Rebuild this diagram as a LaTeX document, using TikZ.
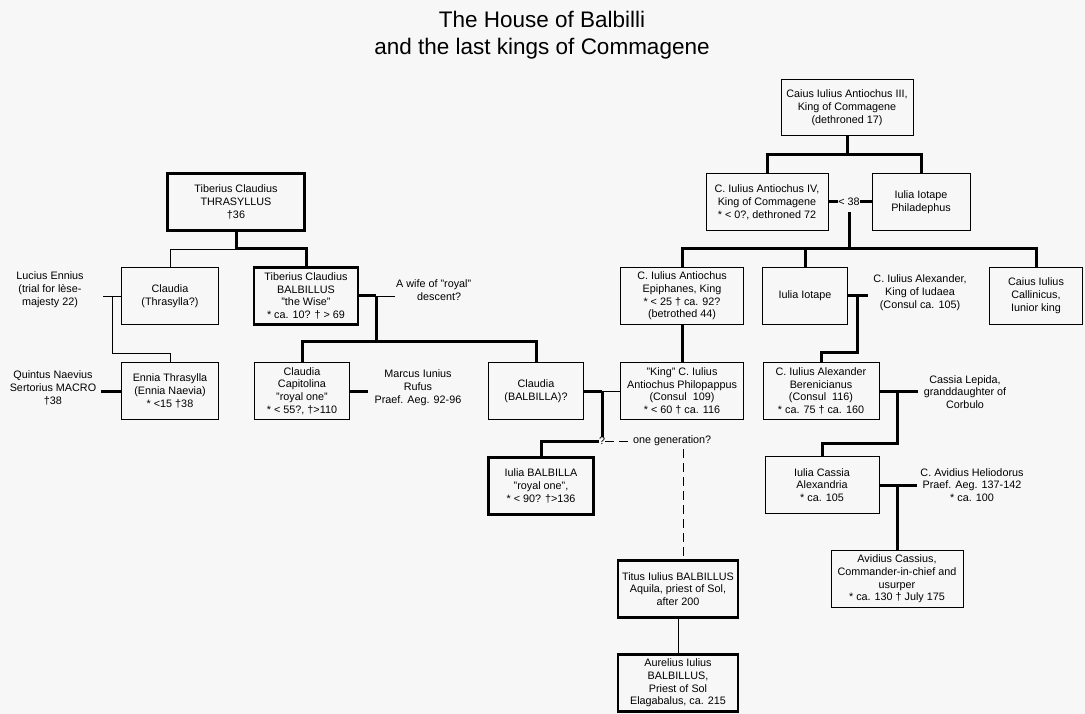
\documentclass[tikz,border=0pt]{standalone}
\usepackage{fontspec}
\setmainfont{Liberation Sans}
\begin{document}
\begin{tikzpicture}[x=1pt,y=-1pt,
  every node/.style={font=\fontsize{10.8}{12.8}\selectfont, align=center, inner sep=1pt},
  box/.style={draw, line width=1pt, minimum height=57pt, minimum width=#1},
  box/.default=100pt,
  tbox/.style={box=#1, line width=2.6pt},
  tbox/.default=100pt,
  thk/.style={line width=3pt},
  thn/.style={line width=0.9pt},
  lbl/.style={inner sep=0pt}]
\fill[gray!6] (0,0) rectangle (1085,714);
\useasboundingbox (0,0) rectangle (1085,714);
\node[font=\fontsize{22.5}{27}\selectfont] (title) at (542,35) {The House of Balbilli\\and the last kings of Commagene};

\node[box=132pt, minimum height=56pt] (a3) at (847,108) {Caius Iulius Antiochus III,\\King of Commagene\\(dethroned 17)};
\node[box=122pt] (a4) at (767,202) {C. Iulius Antiochus IV,\\King of Commagene\\{}* < 0?, dethroned 72};
\node[box=98pt] (ip) at (921,202) {Iulia Iotape\\Philadephus};
\node[lbl] (m38) at (849,202) {< 38};
\node[box=123pt] (ep) at (682,296) {C. Iulius Antiochus\\Epiphanes, King\\{}* < 25 \dag{} ca. 92?\\(betrothed 44)};
\node[box=85pt] (ii) at (805,296) {Iulia Iotape};
\node[lbl] (alx) at (920,293) {C. Iulius Alexander,\\King of Iudaea\\(Consul ca. 105)};
\node[box=93pt] (cal) at (1036,296) {Caius Iulius\\Callinicus,\\Iunior king};

\node[tbox=137pt] (thr) at (236,202) {Tiberius Claudius\\THRASYLLUS\\\dag36};
\node[box=97pt] (cth) at (170,296) {Claudia\\(Thrasylla?)};
\node[tbox=104pt] (bal) at (306,296) {Tiberius Claudius\\BALBILLUS\\"the Wise"\\{}* ca. 10? \dag{} > 69};
\node[lbl] (len) at (50,290) {Lucius Ennius\\(trial for lèse-\\majesty 22)};
\node[lbl,anchor=west] (wife) at (396,290) {A wife of "royal"\\\hspace*{1em}descent?};

\node[box=97pt] (enn) at (170,391) {Ennia Thrasylla\\(Ennia Naevia)\\{}* <15 \dag38};
\node[lbl] (qn) at (53,388) {Quintus Naevius\\Sertorius MACRO\\\dag38};
\node[box=95pt] (cap) at (302,391) {Claudia\\Capitolina\\"royal one"\\{}* < 55?, \dag>110};
\node[lbl] (mir) at (418,388) {Marcus Iunius\\Rufus\\Praef. Aeg. 92-96};
\node[box=95pt] (cba) at (536,391) {Claudia\\(BALBILLA)?};
\node[box=123pt] (phi) at (682,391) {"King" C. Iulius\\Antiochus Philopappus\\(Consul\ \ 109)\\{}* < 60 \dag{} ca. 116};
\node[box=116pt] (ber) at (821,391) {C. Iulius Alexander\\Berenicianus\\(Consul\ \ 116)\\{}* ca. 75 \dag{} ca. 160};
\node[lbl] (cl) at (965,392) {Cassia Lepida,\\granddaughter of\\Corbulo};

\node[tbox=105pt] (iba) at (541,486) {Iulia BALBILLA\\"royal one",\\{}* < 90? \dag>136};
\node[box=114pt] (ica) at (822,485) {Iulia Cassia\\Alexandria\\{}* ca. 105};
\node[lbl] (avh) at (972,485) {C. Avidius Heliodorus\\Praef. Aeg. 137-142\\{}* ca. 100};
\node[box=132pt] (avc) at (897,579) {Avidius Cassius,\\Commander-in-chief and\\usurper\\{}* ca. 130 \dag{} July 175};
\node[tbox=120pt] (tit) at (678,589) {Titus Iulius BALBILLUS\\Aquila, priest of Sol,\\after 200};
\node[tbox=120pt] (aur) at (678,683) {Aurelius Iulius\\BALBILLUS,\\Priest of Sol\\Elagabalus, ca. 215};

\node[lbl] (q) at (602,441) {?};
\node[lbl,anchor=west] (og) at (633,441) {one generation?};

% Commagene
\draw[thk] (a3.south) -- (847,155) coordinate (j1);
\draw[thk] (a4.north) |- (j1) -| (ip.north);
\draw[thk] (a4.east) -- (m38.west);
\draw[thk] (m38.east) -- (ip.west);
\draw[thk] (849,212) coordinate (j2) -- (849,249) coordinate (j3);
\draw[thk] (ep.north) |- (j3) -| (cal.north);
\draw[thk] (ii.north) -- (805,249);
\draw[thk] (ii.east) -- (868,296);
\draw[thk] (857,296) -- (857,352) -| (ber.north);
\draw[thk] (ep.south) -- (phi.north);
\draw[thk] (ber.east) -- (918,391);
\draw[thk] (897,391) -- (897,443) -| (ica.north);
\draw[thk] (ica.east) -- (917,485);
\draw[thk] (897,485) -- (avc.north);

% Thrasyllus
\draw[thk] (thr.south) -- (236,249) coordinate (j4) -| (bal.north);
\draw[thn] (j4) -| (cth.north);
\draw[thn] (cth.west) -- (103,296);
\draw[thn] (112,296) -- (112,353) -| (enn.north);
\draw[thk] (101,391) -- (enn.west);
\draw[thk] (bal.east) -- (376,296);
\draw[thn] (376,296) -- (395,296);
\draw[thk] (376,296) -- (376,341) coordinate (j5);
\draw[thk] (cap.north) |- (j5) -| (cba.north);
\draw[thk] (cap.east) -- (368,391);
\draw[thk] (cba.east) -- (602,391);
\draw[thn] (602,391) -- (phi.west);
\draw[thk] (602,391) -- (q.north);
\draw[thk] (q.west) -| (iba.north);
\draw[thn, dash pattern=on 9pt off 5pt] (q.east) -- (og.west);
\draw[thn, dash pattern=on 9pt off 5pt] (683,449) -- (683,561);
\draw[thn] (tit.south) -- (aur.north);
\end{tikzpicture}
\end{document}
